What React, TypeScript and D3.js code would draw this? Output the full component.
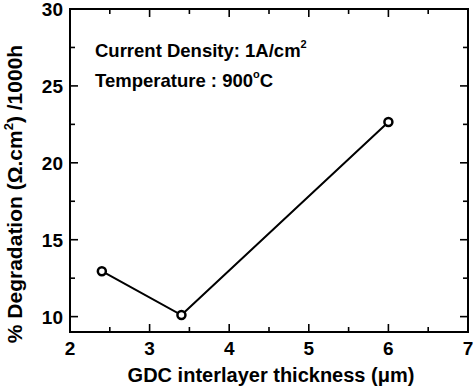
import { useEffect, useRef } from "react";
import * as d3 from "d3";

const thickness = [2.4, 3.4, 6.0];
const degradation = [12.95, 10.1, 22.65];
const xTicks = [2, 3, 4, 5, 6, 7];
const yTicks = [10, 15, 20, 25, 30];
const xMinor = [2.5, 3.5, 4.5, 5.5, 6.5];
const yMinor = [12.5, 17.5, 22.5, 27.5];

export default function App() {
	const ref = useRef<SVGSVGElement>(null);

	useEffect(() => {
		const svg = d3.select(ref.current);
		svg.selectAll("*").remove();

		const W = 474, H = 387;
		const left = 70, right = 468, top = 9, bottom = 332;
		const font = "Arial, 'Liberation Sans', sans-serif";

		const x = d3.scaleLinear().domain([2, 7]).range([left, right]);
		const y = d3.scaleLinear().domain([9, 30]).range([bottom, top]);

		svg.append("rect").attr("width", W).attr("height", H).attr("fill", "#fff");

		// frame
		svg.append("rect")
			.attr("x", left).attr("y", top)
			.attr("width", right - left).attr("height", bottom - top)
			.attr("fill", "none").attr("stroke", "#000").attr("stroke-width", 2);

		const tickG = svg.append("g").attr("stroke", "#000").attr("stroke-width", 1.6);
		const major = 8, minor = 5;

		// x ticks, bottom and top, pointing in
		xTicks.concat(xMinor).forEach(v => {
			const len = xTicks.includes(v) ? major : minor;
			tickG.append("line").attr("x1", x(v)).attr("x2", x(v)).attr("y1", bottom).attr("y2", bottom - len);
			tickG.append("line").attr("x1", x(v)).attr("x2", x(v)).attr("y1", top).attr("y2", top + len);
		});
		// y ticks, left and right
		yTicks.concat(yMinor).forEach(v => {
			const len = yTicks.includes(v) ? major : minor;
			tickG.append("line").attr("x1", left).attr("x2", left + len).attr("y1", y(v)).attr("y2", y(v));
			tickG.append("line").attr("x1", right).attr("x2", right - len).attr("y1", y(v)).attr("y2", y(v));
		});

		// tick labels
		svg.append("g").selectAll("text").data(xTicks).enter().append("text")
			.attr("x", d => x(d)).attr("y", bottom + 23)
			.attr("text-anchor", "middle")
			.attr("font-family", font).attr("font-weight", "bold").attr("font-size", 19)
			.text(d => d);

		svg.append("g").selectAll("text").data(yTicks).enter().append("text")
			.attr("x", left - 7).attr("y", d => y(d) + 7)
			.attr("text-anchor", "end")
			.attr("font-family", font).attr("font-weight", "bold").attr("font-size", 19)
			.text(d => d);

		// axis titles
		svg.append("text")
			.attr("x", 271).attr("y", 382)
			.attr("text-anchor", "middle")
			.attr("font-family", font).attr("font-weight", "bold").attr("font-size", 20)
			.text("GDC interlayer thickness (\u03bcm)");

		const yt = svg.append("text")
			.attr("transform", "translate(22,194) rotate(-90)")
			.attr("text-anchor", "middle")
			.attr("font-family", font).attr("font-weight", "bold").attr("font-size", 21);
		yt.append("tspan").text("% Degradation (\u03a9.cm");
		yt.append("tspan").attr("font-size", 13).attr("dy", -9).text("2");
		yt.append("tspan").attr("dy", 9).text(") /1000h");

		// line + markers
		const pts = thickness.map((t, i) => [t, degradation[i]] as [number, number]);
		svg.append("path")
			.datum(pts)
			.attr("fill", "none").attr("stroke", "#000").attr("stroke-width", 2)
			.attr("d", d3.line().x(d => x(d[0])).y(d => y(d[1])));

		svg.append("g").selectAll("circle").data(pts).enter().append("circle")
			.attr("cx", d => x(d[0])).attr("cy", d => y(d[1]))
			.attr("r", 4).attr("fill", "#fff").attr("stroke", "#000").attr("stroke-width", 2.5);

		// annotations
		const a1 = svg.append("text")
			.attr("x", 95).attr("y", 57)
			.attr("font-family", font).attr("font-weight", "bold").attr("font-size", 18.5);
		a1.append("tspan").text("Current Density: 1A/cm");
		a1.append("tspan").attr("font-size", 11).attr("dy", -9).text("2");

		const a2 = svg.append("text")
			.attr("x", 95).attr("y", 87)
			.attr("font-family", font).attr("font-weight", "bold").attr("font-size", 18.5);
		a2.append("tspan").text("Temperature : 900");
		a2.append("tspan").attr("font-size", 11).attr("dy", -9).text("o");
		a2.append("tspan").attr("dy", 9).text("C");
	}, []);

	return (
		<svg ref={ref} width={474} height={387}
			style={{ position: "absolute", left: 0, top: 0, display: "block" }} />
	);
}
